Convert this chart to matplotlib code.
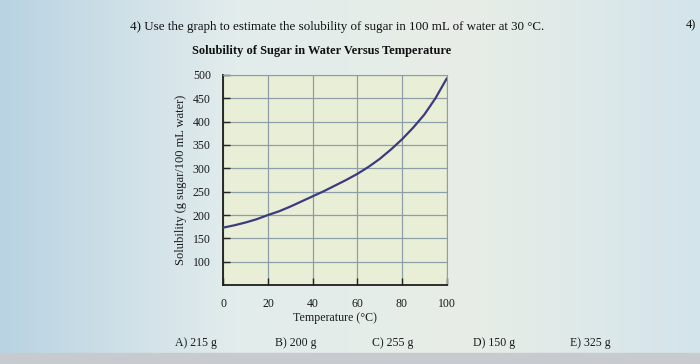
import matplotlib
matplotlib.use("Agg")
import matplotlib.pyplot as plt
import numpy as np

# Data
temperature = [0, 5, 10, 15, 20, 25, 30, 35, 40, 45, 50, 55, 60, 65, 70, 75, 80, 85, 90, 95, 100]
solubility = [173, 178, 184, 191, 200, 208, 218, 229, 240, 251, 263, 275, 288, 303, 320, 340,
              362, 387, 415, 450, 492]
x_ticks = [0, 20, 40, 60, 80, 100]
y_ticks = [100, 150, 200, 250, 300, 350, 400, 450, 500]
answers = ["A) 215 g", "B) 200 g", "C) 255 g", "D) 150 g", "E) 325 g"]

question = "4) Use the graph to estimate the solubility of sugar in 100 mL of water at 30 \u00b0C."
title = "Solubility of Sugar in Water Versus Temperature"

serif = ["Liberation Serif", "DejaVu Serif"]

fig = plt.figure(figsize=(7.0, 3.64), dpi=100)
fig.patch.set_facecolor("#d6e6ec")

# soft background gradient (photo look)
bg = fig.add_axes([0, 0, 1, 1], zorder=-10)
grad = np.linspace(0, 1, 256)[None, :]
bg.imshow(grad, aspect="auto", cmap=matplotlib.colors.LinearSegmentedColormap.from_list(
    "bgc", ["#b9d3e3", "#e2ecec", "#e8eee6", "#d4e4ec"]), extent=[0, 1, 0, 1])
bg.axhspan(0, 0.03, color="#c7cbd0")
bg.set_xlim(0, 1); bg.set_ylim(0, 1)
bg.axis("off")

ax = fig.add_axes([0.319, 0.217, 0.319, 0.577])
ax.set_facecolor("#e9efd6")
ax.plot(temperature, solubility, color="#3b3b7e", lw=1.6, zorder=3,
        solid_joinstyle="round")
ax.set_xlim(0, 100)
ax.set_ylim(50, 500)
ax.set_xticks(x_ticks)
ax.set_yticks(y_ticks)
ax.grid(True, color="#8e9ea6", lw=0.9)
ax.tick_params(direction="in", length=5, width=1.0, color="#222222",
               labelsize=8.5, pad=9)
for lab in ax.get_xticklabels() + ax.get_yticklabels():
    lab.set_family(serif)
    lab.set_color("#1a1a1a")
for s in ["top", "right"]:
    ax.spines[s].set_color("#8e9ea6")
for s in ["left", "bottom"]:
    ax.spines[s].set_color("#1e1e1e")
    ax.spines[s].set_linewidth(1.3)
ax.set_xlabel("Temperature (\u00b0C)", family=serif, fontsize=8.6, color="#1a1a1a", labelpad=2)
ax.set_ylabel("Solubility (g sugar/100 mL water)", family=serif, fontsize=9,
              color="#1a1a1a", labelpad=4)

fig.text(130 / 700, 1 - 27 / 364, question, family=serif, fontsize=9.4,
         color="#101010", va="center", ha="left")
fig.text(686 / 700, 1 - 25 / 364, "4)", family=serif, fontsize=9,
         color="#101010", va="center", ha="left")
fig.text(322 / 700, 1 - 51 / 364, title, family=serif, fontsize=8.9,
         fontweight="bold", color="#101010", va="center", ha="center")

ans_x = [175, 275, 372, 473, 570]
for x, a in zip(ans_x, answers):
    fig.text(x / 700, 1 - 343 / 364, a, family=serif, fontsize=8.5,
             color="#1a1a1a", va="center", ha="left")

fig.savefig("out.png", dpi=100, facecolor=fig.get_facecolor())
